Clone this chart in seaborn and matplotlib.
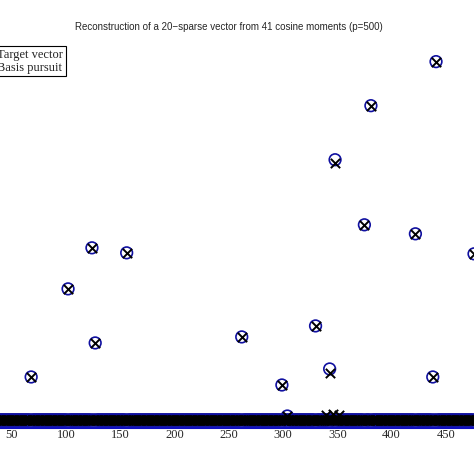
import matplotlib.pyplot as plt
import seaborn as sns
import numpy as np
import pandas as pd

p = 500
# nonzero entries of the target vector (index, value)
target_idx = [68, 102, 124, 127, 156, 262, 299, 304, 330, 343, 348, 375, 381, 422, 438, 441, 476]
target_val = [0.43, 1.31, 1.72, 0.77, 1.67, 0.83, 0.35, 0.04, 0.94, 0.51, 2.60, 1.95, 3.14, 1.86, 0.43, 3.58, 1.66]
# basis pursuit estimate
bp_idx = [68, 102, 124, 127, 156, 262, 299, 304, 330, 343, 348, 375, 381, 422, 438, 441, 476, 340, 346, 352]
bp_val = [0.43, 1.31, 1.72, 0.77, 1.67, 0.83, 0.35, 0.04, 0.94, 0.47, 2.57, 1.95, 3.14, 1.86, 0.43, 3.58, 1.66, 0.05, 0.06, 0.05]
xticks = [50, 100, 150, 200, 250, 300, 350, 400, 450]

target = np.zeros(p)
target[np.array(target_idx) - 1] = target_val
bp = np.zeros(p)
bp[np.array(bp_idx) - 1] = bp_val
df = pd.DataFrame({'k': np.arange(1, p + 1), 'target': target, 'bp': bp})

sns.set_style('white')
fig = plt.figure(figsize=(4.74, 4.74), dpi=100)
ax = fig.add_axes([-0.09, 0.097, 1.145, 0.83])

sns.scatterplot(data=df, x='k', y='target', ax=ax, marker='o', s=70,
                facecolor='none', edgecolor='#1010a0', linewidth=1.2,
                label='Target vector', clip_on=False, zorder=3)
sns.scatterplot(data=df, x='k', y='bp', ax=ax, marker='x', s=45,
                color='black', linewidth=1.4,
                label='Basis pursuit', clip_on=False, zorder=4)

ax.set_xlim(0, 500)
ax.set_ylim(-0.08, 3.85)
ax.set_xticks(xticks)
ax.set_xticklabels([str(t) for t in xticks], family='Liberation Serif', fontsize=9)
ax.tick_params(axis='x', pad=1, length=0)
ax.set_yticks([])
ax.set_xlabel('')
ax.set_ylabel('')
for side in ['top', 'left', 'right']:
    ax.spines[side].set_visible(False)
ax.spines['bottom'].set_color('#1010c0')
ax.spines['bottom'].set_linewidth(1.5)

ax.set_title('Reconstruction of a 20\u2212sparse vector from 41 cosine moments (p=500)',
             family='Liberation Sans', fontsize=7, pad=3)

leg = ax.legend(loc='upper right', bbox_to_anchor=(0.152, 0.916),
                bbox_transform=fig.transFigure, prop={'family': 'Liberation Serif', 'size': 9},
                frameon=True, fancybox=False, edgecolor='black', framealpha=1,
                handlelength=1.0, borderpad=0.2, labelspacing=0.1)
leg.get_frame().set_linewidth(0.8)

fig.savefig('out.png', dpi=100)
